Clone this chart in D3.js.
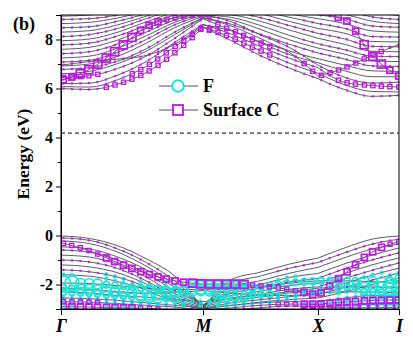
<!DOCTYPE html>
<html>
<head>
<meta charset="utf-8">
<script src="https://cdn.jsdelivr.net/npm/d3@7"></script>
<style>
  body { margin: 0; background: #fff; }
  svg { display: block; }
</style>
</head>
<body>
<svg id="chart" width="413" height="342"></svg>
<script>
// k path and labels
const kNodes = [0, 0.2, 0.4, 0.6, 0.8, 1.0, 1.2, 1.4, 1.6, 1.81, 2.0, 2.19, 2.38];
const kTicks = [0, 1.0, 1.81, 2.38];
const kLabels = ['Γ', 'M', 'X', 'I'];
const segments = [[0, 5], [5, 9], [9, 12]];
const yTicks = [-2, 0, 2, 4, 6, 8];
const yMinor = [-1, 1, 3, 5, 7];
const gapLevel = 4.18;

// conduction bands (eV) at kNodes
const conduction = [
  [6.00, 5.96, 6.18, 6.65, 7.45, 8.50, 7.95, 7.35, 6.85, 6.40, 5.95, 5.68, 5.72],
  [6.08, 6.06, 6.36, 6.90, 7.70, 8.52, 8.08, 7.55, 7.05, 6.62, 6.15, 5.88, 5.86],
  [6.20, 6.22, 6.55, 7.10, 7.88, 8.62, 8.22, 7.72, 7.25, 6.85, 6.25, 6.12, 6.06],
  [6.32, 6.78, 7.60, 8.52, 8.88, 9.02, 8.72, 8.20, 7.70, 6.95, 6.45, 6.22, 6.26],
  [6.45, 6.52, 6.82, 7.32, 8.05, 8.85, 8.38, 7.88, 7.40, 7.05, 6.72, 6.48, 6.48],
  [6.60, 6.70, 7.02, 7.52, 8.20, 8.88, 8.55, 8.05, 7.55, 7.22, 6.95, 6.72, 6.70],
  [6.78, 6.85, 7.12, 7.62, 8.30, 8.90, 8.62, 8.22, 7.82, 7.45, 7.20, 6.92, 6.90],
  [6.92, 7.00, 7.32, 7.85, 8.48, 8.95, 8.80, 8.42, 8.00, 7.65, 7.40, 7.12, 7.10],
  [7.08, 7.15, 7.48, 8.00, 8.60, 9.00, 8.90, 8.58, 8.18, 7.82, 7.58, 7.32, 7.30],
  [7.25, 7.32, 7.65, 8.15, 8.70, 9.05, 9.00, 8.75, 8.40, 8.05, 7.80, 7.52, 7.50],
  [7.42, 7.50, 7.82, 8.30, 8.80, 9.10, 9.10, 8.90, 8.58, 8.25, 8.02, 7.72, 7.70],
  [7.60, 7.68, 7.98, 8.45, 8.90, 9.15, 9.20, 9.05, 8.75, 8.45, 8.25, 7.92, 7.90],
  [7.78, 7.85, 8.15, 8.58, 9.00, 9.20, 9.30, 9.15, 8.92, 8.65, 8.45, 8.12, 8.10],
  [7.95, 8.02, 8.30, 8.72, 9.10, 9.30, 9.40, 9.25, 9.05, 8.85, 8.65, 8.35, 8.30],
  [8.12, 8.20, 8.45, 8.85, 9.20, 9.40, 9.50, 9.35, 9.18, 9.00, 8.85, 8.55, 8.50],
  [8.30, 8.36, 8.60, 8.95, 9.30, 9.50, 9.60, 9.45, 9.30, 9.15, 9.02, 8.75, 8.65],
  [8.48, 8.52, 8.75, 9.05, 9.40, 9.60, 9.70, 9.55, 9.40, 9.28, 9.20, 8.92, 8.82],
  [8.65, 8.70, 8.88, 9.15, 9.50, 9.70, 9.80, 9.65, 9.50, 9.40, 9.35, 9.10, 8.98],
  [8.82, 8.85, 9.00, 9.25, 9.60, 9.80, 9.90, 9.75, 9.60, 9.50, 9.45, 9.25, 9.15],
  [8.95, 9.00, 9.12, 9.35, 9.70, 9.90, 9.95, 9.85, 9.70, 9.60, 9.55, 9.40, 9.30],
  [9.60, 9.60, 9.55, 9.50, 9.45, 9.40, 9.35, 9.25, 9.15, 9.05, 8.80, 7.35, 6.50],
  [6.95, 7.10, 7.20, 7.35, 7.80, 8.60, 8.35, 7.90, 7.50, 6.50, 6.85, 7.35, 7.80]
];

// valence bands (eV) at kNodes
const valence = [
  [-0.02, -0.12, -0.42, -0.95, -1.65, -2.95, -1.80, -1.50, -1.18, -0.92, -0.50, -0.15, -0.02],
  [-0.10, -0.20, -0.55, -1.10, -1.85, -2.92, -1.95, -1.66, -1.35, -1.10, -0.70, -0.35, -0.15],
  [-0.22, -0.33, -0.68, -1.25, -2.00, -2.88, -2.10, -1.85, -1.55, -1.30, -0.90, -0.55, -0.35],
  [-0.30, -0.62, -1.12, -1.55, -1.85, -1.98, -1.98, -2.05, -2.20, -2.45, -1.55, -0.68, -0.25],
  [-0.46, -0.55, -0.88, -1.40, -2.12, -2.85, -2.25, -2.00, -1.72, -1.55, -1.15, -0.80, -0.51],
  [-0.59, -0.68, -1.00, -1.55, -2.25, -2.82, -2.35, -2.15, -1.90, -1.75, -1.35, -1.00, -0.71],
  [-0.80, -0.88, -1.18, -1.70, -2.38, -2.85, -2.45, -2.28, -2.05, -1.95, -1.55, -1.20, -0.92],
  [-1.00, -1.08, -1.35, -1.85, -2.48, -2.88, -2.55, -2.40, -2.20, -2.10, -1.75, -1.42, -1.12],
  [-1.20, -1.28, -1.52, -1.98, -2.58, -2.92, -2.65, -2.52, -2.35, -2.25, -1.95, -1.62, -1.33],
  [-1.40, -1.48, -1.70, -2.10, -2.66, -2.96, -2.75, -2.62, -2.50, -2.40, -2.12, -1.82, -1.53],
  [-1.60, -1.66, -1.88, -2.22, -2.74, -3.00, -2.85, -2.72, -2.62, -2.55, -2.30, -2.00, -1.73],
  [-1.94, -1.96, -2.05, -2.15, -2.20, -2.20, -2.18, -2.10, -1.95, -1.85, -1.85, -1.88, -1.94],
  [-2.15, -2.20, -2.30, -2.35, -2.32, -2.25, -2.35, -2.42, -2.30, -2.15, -2.10, -2.10, -2.14],
  [-2.30, -2.35, -2.45, -2.52, -2.60, -2.70, -2.58, -2.45, -2.45, -2.35, -2.30, -2.30, -2.35],
  [-2.55, -2.58, -2.65, -2.75, -2.85, -2.95, -2.85, -2.75, -2.70, -2.70, -2.55, -2.45, -2.45],
  [-2.70, -2.72, -2.78, -2.85, -2.92, -3.05, -2.95, -2.85, -2.80, -2.80, -2.72, -2.65, -2.63],
  [-2.90, -2.92, -2.95, -2.97, -3.05, -3.10, -3.05, -2.95, -2.88, -2.90, -2.95, -2.95, -2.92]
];

// projected weights (0 = none, 1..4 = marker size class)
const none = [0, 0, 0, 0, 0, 0, 0, 0, 0, 0, 0, 0, 0];
const dots = [1, 1, 1, 1, 1, 1, 1, 1, 1, 1, 1, 1, 1];
const sideDots = [1, 1, 1, 1, 1, 0, 0, 0, 0, 1, 1, 1, 1];
const conductionC = [
  [1, 1, 2, 2, 2, 2, 1, 1, 1, 1, 1, 1, 1],
  [0, 0, 1, 2, 2, 2, 2, 2, 1, 0, 0, 0, 0],
  [1, 1, 1, 1, 1, 1, 1, 1, 1, 1, 2, 2, 2],
  [3, 4, 4, 3, 2, 2, 1, 1, 1, 1, 1, 1, 1],
  [2, 2, 1, 1, 1, 1, 2, 2, 1, 0, 0, 0, 0],
  none, dots, none, sideDots, none, dots, none, sideDots, none, dots, none, sideDots, none, dots, none,
  [0, 0, 0, 0, 0, 0, 0, 0, 0, 1, 3, 4, 3],
  [1, 1, 1, 1, 1, 1, 1, 1, 1, 2, 2, 2, 1]
];
const valenceC = [
  none,
  [1, 1, 1, 1, 0, 0, 0, 0, 1, 1, 1, 1, 1],
  none,
  [2, 2, 3, 3, 3, 4, 4, 2, 2, 3, 3, 3, 2],
  none, dots, none, sideDots, none, dots, none, none, sideDots, none, dots,
  [2, 2, 1, 1, 1, 1, 1, 1, 2, 3, 3, 3, 3],
  [3, 3, 3, 2, 1, 1, 1, 1, 1, 2, 3, 4, 4]
];
const valenceF = [
  none, none, none,
  [0, 0, 0, 0, 0, 2, 2, 0, 0, 0, 0, 0, 0],
  [0, 0, 0, 0, 1, 0, 1, 0, 1, 0, 0, 0, 0],
  none,
  [0, 0, 0, 0, 0, 1, 0, 1, 0, 1, 0, 0, 0],
  none,
  [0, 0, 0, 1, 0, 1, 0, 1, 0, 1, 0, 1, 0],
  [0, 0, 1, 0, 1, 0, 1, 0, 1, 0, 1, 0, 1],
  [1, 0, 1, 0, 1, 0, 1, 0, 1, 0, 1, 0, 2],
  [4, 3, 2, 2, 2, 3, 2, 2, 2, 2, 2, 3, 3],
  [2, 3, 3, 4, 3, 3, 4, 2, 1, 1, 2, 3, 4],
  [2, 2, 2, 3, 2, 1, 2, 1, 1, 1, 1, 2, 3],
  [1, 1, 1, 1, 1, 0, 1, 1, 0, 0, 1, 2, 3],
  [1, 1, 1, 1, 0, 0, 0, 0, 0, 1, 1, 2, 3],
  [1, 0, 1, 0, 0, 0, 0, 0, 0, 0, 1, 2, 2]
];

const colorC = '#c312e6';
const colorF = '#14e6d6';
const bandColor = '#4f5560';
const serif = '"Liberation Serif", "Times New Roman", serif';

const svg = d3.select('#chart');
const x = d3.scaleLinear().domain([0, 2.38]).range([61, 399]);
const y = d3.scaleLinear().domain([-3, 9]).range([309, 15]);
const squareSize = [0, 2.2, 4.2, 6, 8];
const circleR = [0, 1.6, 3.2, 4.8, 7];

svg.append('defs').append('clipPath').attr('id', 'clip')
  .append('rect')
  .attr('x', x.range()[0]).attr('y', y.range()[1])
  .attr('width', x.range()[1] - x.range()[0])
  .attr('height', y.range()[0] - y.range()[1]);

const plot = svg.append('g').attr('clip-path', 'url(#clip)');
const lineLayer = plot.append('g');
const squareLayer = plot.append('g');
const circleLayer = plot.append('g');
const bigSquareLayer = plot.append('g');

const line = d3.line()
  .x(d => x(d[0]))
  .y(d => y(d[1]))
  .curve(d3.curveMonotoneX);

// marker columns along k
const markerXs = d3.range(x(0) + 2, x(2.38) + 1, 8.6);

// points of a drawn path at given x positions
function sampleAt(node, xs) {
  const L = node.getTotalLength();
  const walk = [];
  for (let l = 0; l <= L; l += 0.5) walk.push(node.getPointAtLength(l));
  walk.push(node.getPointAtLength(L));
  return xs.map(gx => walk.find(p => p.x >= gx)).filter(Boolean);
}

function drawBands(bands, wC, wF) {
  bands.forEach((band, b) => {
    segments.forEach(([i0, i1], s) => {
      const pts = d3.range(i0, i1 + 1).map(i => [kNodes[i], band[i]]);
      const path = lineLayer.append('path')
        .attr('d', line(pts))
        .attr('fill', 'none')
        .attr('stroke', bandColor)
        .attr('stroke-width', 0.95);
      const xa = x(kNodes[i0]), xb = x(kNodes[i1]);
      const xs = markerXs.filter(v => v >= xa && (v < xb || s === segments.length - 1));
      sampleAt(path.node(), xs).forEach(p => {
        const kv = x.invert(p.x);
        let idx = i0;
        for (let i = i0; i <= i1; i++) {
          if (Math.abs(kNodes[i] - kv) < Math.abs(kNodes[idx] - kv)) idx = i;
        }
        const f = wF ? wF[b][idx] : 0;
        const c = wC ? wC[b][idx] : 0;
        if (f) {
          circleLayer.append('circle')
            .attr('cx', p.x).attr('cy', p.y).attr('r', circleR[f])
            .attr('fill', 'none').attr('stroke', colorF)
            .attr('stroke-width', f > 1 ? 1.6 : 1.1);
        }
        if (c === 1) {
          const sz = squareSize[1];
          squareLayer.append('rect')
            .attr('x', p.x - sz / 2).attr('y', p.y - sz / 2)
            .attr('width', sz).attr('height', sz)
            .attr('fill', colorC).attr('opacity', 0.85);
        } else if (c > 1) {
          const sz = squareSize[c];
          bigSquareLayer.append('rect')
            .attr('x', p.x - sz / 2).attr('y', p.y - sz / 2)
            .attr('width', sz).attr('height', sz)
            .attr('fill', 'none').attr('stroke', colorC)
            .attr('stroke-width', c > 2 ? 1.7 : 1.3);
        }
      });
    });
  });
}

drawBands(conduction, conductionC, null);
drawBands(valence, valenceC, valenceF);

// gap line
svg.append('line')
  .attr('x1', x(0)).attr('x2', x(2.38))
  .attr('y1', y(gapLevel)).attr('y2', y(gapLevel))
  .attr('stroke', '#000').attr('stroke-width', 1)
  .attr('stroke-dasharray', '4,3');

// frame
svg.append('rect')
  .attr('x', x(0)).attr('y', y(9))
  .attr('width', x(2.38) - x(0)).attr('height', y(-3) - y(9))
  .attr('fill', 'none').attr('stroke', '#000').attr('stroke-width', 1);

// axes
const yAxis = svg.append('g')
  .attr('transform', `translate(${x(0)},0)`)
  .call(d3.axisLeft(y).tickValues(yTicks).tickSize(5).tickPadding(3).tickFormat(d => String(d)));
svg.append('g')
  .attr('transform', `translate(${x(0)},0)`)
  .call(d3.axisLeft(y).tickValues(yMinor).tickSize(3).tickFormat(''))
  .select('.domain').remove();

const xAxis = svg.append('g')
  .attr('transform', `translate(0,${y(-3)})`)
  .call(d3.axisBottom(x).tickValues(kTicks).tickSize(6).tickPadding(4)
    .tickFormat((d, i) => kLabels[i]));

svg.selectAll('.domain').attr('stroke', '#000');
svg.selectAll('.tick line').attr('stroke', '#000');
yAxis.selectAll('text')
  .attr('font-family', serif).attr('font-size', 16).attr('font-weight', 'bold').attr('fill', '#000');
xAxis.selectAll('text')
  .attr('font-family', serif).attr('font-size', 18).attr('font-weight', 'bold')
  .attr('font-style', 'italic').attr('fill', '#000');

// y label
svg.append('text')
  .attr('transform', 'translate(29,154) rotate(-90)')
  .attr('text-anchor', 'middle')
  .attr('font-family', serif).attr('font-size', 17.5).attr('font-weight', 'bold')
  .text('Energy (eV)');

// panel tag
svg.append('text')
  .attr('x', 13).attr('y', 30)
  .attr('font-family', serif).attr('font-size', 18).attr('font-weight', 'bold')
  .text('(b)');

// legend
const legend = svg.append('g').attr('transform', 'translate(159,86)');
legend.append('line').attr('x1', 0).attr('x2', 39).attr('y1', 0).attr('y2', 0)
  .attr('stroke', '#555').attr('stroke-width', 1.2);
legend.append('circle').attr('cx', 19).attr('cy', 0).attr('r', 5.8)
  .attr('fill', '#fff').attr('stroke', colorF).attr('stroke-width', 2);
legend.append('text').attr('x', 44).attr('y', 6)
  .attr('font-family', serif).attr('font-size', 18).attr('font-weight', 'bold').text('F');
legend.append('line').attr('x1', 0).attr('x2', 39).attr('y1', 24).attr('y2', 24)
  .attr('stroke', '#555').attr('stroke-width', 1.2);
legend.append('rect').attr('x', 14).attr('y', 19).attr('width', 10).attr('height', 10)
  .attr('fill', '#fff').attr('stroke', colorC).attr('stroke-width', 1.8);
legend.append('text').attr('x', 44).attr('y', 30)
  .attr('font-family', serif).attr('font-size', 18).attr('font-weight', 'bold').text('Surface C');
</script>
</body>
</html>
